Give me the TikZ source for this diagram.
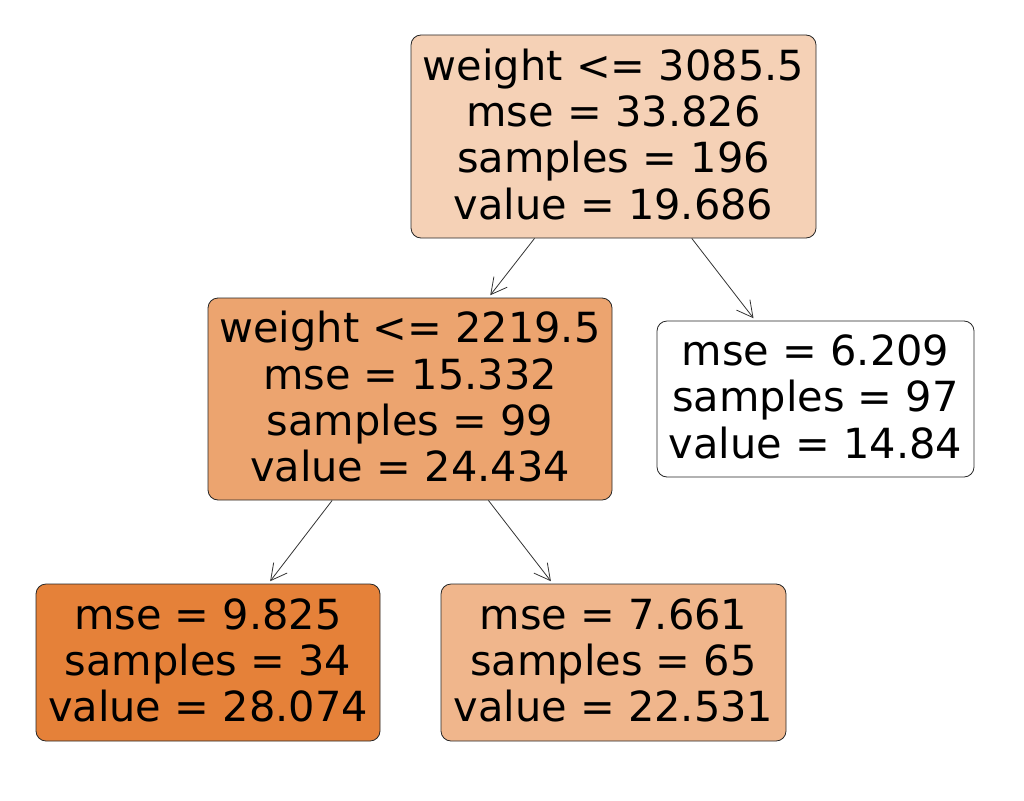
\documentclass[tikz,border=0pt]{standalone}
\usepackage{fontspec}
\setmainfont{DejaVu Sans}
\usetikzlibrary{arrows.meta}
\definecolor{croot}{RGB}{245,209,182}
\definecolor{cleft}{RGB}{236,164,111}
\definecolor{cll}{RGB}{229,129,57}
\definecolor{clr}{RGB}{240,182,140}
\newcommand{\dep}{\rule[-5pt]{0pt}{5pt}}
\tikzset{
  treebox/.style={draw=black!85, line width=0.8pt, rounded corners=10pt, inner sep=0pt, align=center,
    font=\fontsize{41.5}{46.3}\selectfont, text=black},
  edge/.style={draw=black!80, line width=0.8pt, -{Straight Barb[length=16pt,width=17pt,line width=0.8pt]}, shorten >=3pt}
}
\begin{document}
\begin{tikzpicture}[x=1pt,y=-1pt]
\useasboundingbox (0,0) rectangle (1024,800);
\node[treebox, fill=croot, minimum width=405pt, minimum height=203pt] (root) at (613.5,136.5)
  {weight <= 3085.5\\mse = 33.826\\samples = 196\\value = 19.686\dep};
\node[treebox, fill=cleft, minimum width=404pt, minimum height=202pt] (left) at (410,399)
  {weight <= 2219.5\\mse = 15.332\\samples = 99\\value = 24.434\dep};
\node[treebox, fill=white, minimum width=317pt, minimum height=156pt] (right) at (815.5,399)
  {mse = 6.209\\samples = 97\\value = 14.84\dep};
\node[treebox, fill=cll, minimum width=344pt, minimum height=157pt] (ll) at (208,662.5)
  {mse = 9.825\\samples = 34\\value = 28.074\dep};
\node[treebox, fill=clr, minimum width=345pt, minimum height=157pt] (lr) at (613.5,662.5)
  {mse = 7.661\\samples = 65\\value = 22.531\dep};
\draw[edge] (root) -- (left);
\draw[edge] (root) -- (right);
\draw[edge] (left) -- (ll);
\draw[edge] (left) -- (lr);
\end{tikzpicture}
\end{document}
